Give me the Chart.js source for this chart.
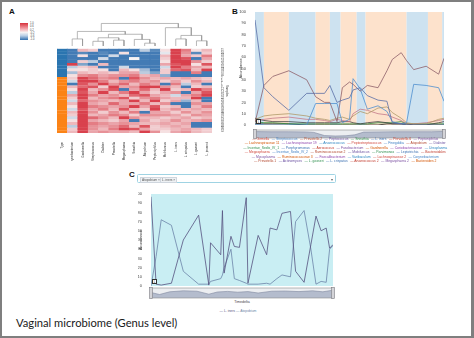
<!DOCTYPE html>
<html>
<head>
<meta charset="utf-8">
<script src="https://cdn.jsdelivr.net/npm/chart.js@4.4.1/dist/chart.umd.min.js"></script>
<style>
  html, body { margin: 0; padding: 0; background: #fff; }
  #page { position: relative; width: 474px; height: 338px; overflow: hidden; font-family: 'Liberation Sans', Arial, sans-serif; }
  #frame { position: absolute; left: 0; top: 0; width: 474px; height: 338px; box-sizing: border-box;
           border: 2px solid #7f7f7f; border-right-width: 3px; pointer-events: none; }
  canvas { position: absolute; }
  .panel { position: absolute; font-weight: bold; font-size: 8px; color: #111; }
  #hmLegend { position: absolute; left: 20px; top: 23px; width: 8px; height: 17px;
              background: linear-gradient(#d7303b, #f4a8ae 35%, #f7f4f4 55%, #b9cfe6 75%, #2f6eae); }
  #hmLegendTicks { position: absolute; left: 30px; top: 22px; font-size: 2.6px; line-height: 3.3px; color: #444; }
  #bLegend { position: absolute; left: 240px; top: 137px; width: 212px; text-align: center; font-size: 3.4px; line-height: 4.4px; }
  #bLegend span { margin-right: 1.5px; white-space: nowrap; }
  #cLegend { position: absolute; left: 140px; top: 309px; width: 196px; text-align: center; font-size: 3.4px; }
  #cSelect { position: absolute; left: 137px; top: 174px; width: 199px; height: 9px; box-sizing: border-box;
             border: 0.8px solid #9fd3e3; border-radius: 1.5px; background: #fff; }
  .chip { position: absolute; top: 2px; height: 4px; font-size: 3.2px; line-height: 4px; color: #555;
          background: #eef1f4; border: 0.5px solid #cfd6de; padding: 0 1px; }
  #cArrow { position: absolute; right: 2px; top: 1.5px; font-size: 4px; color: #666; }
  .mini { position: absolute; width: 5px; height: 5px; box-sizing: border-box; border: 0.7px solid #333; background: #fff;
          font-size: 3px; line-height: 4px; text-align: center; color: #333; }
  #tdLabel { position: absolute; left: 151px; top: 300px; width: 182px; text-align: center; font-size: 3.6px; color: #444; }
  #caption { position: absolute; left: 16px; top: 316px; font-family: Lato, 'Open Sans', sans-serif; font-size: 11.2px; color: #1a1a1a; white-space: nowrap; }
</style>
</head>
<body>
<div id="page">
  <div class="panel" style="left:9px;top:7px;">A</div>
  <div class="panel" style="left:232px;top:7px;">B</div>
  <div class="panel" style="left:129px;top:170px;">C</div>

  <div id="hmLegend"></div>
  <div id="hmLegendTicks"></div>
  <canvas id="cDendro" width="145" height="24" style="left:67px;top:22px;"></canvas>
  <canvas id="cHeat" width="172" height="115" style="left:57px;top:46px;"></canvas>

  <canvas id="cB" width="208" height="123" style="left:238px;top:8px;"></canvas>
  <canvas id="cBRange" width="193" height="10" style="left:253px;top:129px;"></canvas>
  <div class="mini" style="left:256px;top:119px;">L</div>
  <div id="bLegend"></div>

  <div id="cSelect">
    <div class="chip" style="left:2px;">Atopobium ×</div>
    <div class="chip" style="left:22px;">L. iners ×</div>
    <div id="cArrow">▾</div>
  </div>
  <canvas id="cC" width="197" height="102" style="left:138px;top:190px;"></canvas>
  <canvas id="cCRange" width="186" height="12" style="left:149px;top:287px;"></canvas>
  <div class="mini" style="left:152px;top:279px;">L</div>
  <div id="tdLabel">Timedelta</div>
  <div id="cLegend"></div>

  <div id="caption">Vaginal microbiome (Genus level)</div>
  <div id="frame"></div>
</div>

<script>
// ─── Panel A: clustered heatmap ───
const HM_COLS = ['Type', 'Corynebacterium', 'Gardnerella', 'Streptococcus', 'Dialister', 'Prevotella',
  'Megasphaera', 'Sneathia', 'Atopobium', 'Peptoniphilus', 'Mobiluncus', 'L. iners', 'L. crispatus', 'L. gasseri', 'L. jensenii'];
const HM_SAMPLES = ['11', '16', '18', '21', '24', '26', '31', '33', '37', '40', '2', '5', '7', '9', '12', '14', '19', '22',
  '25', '28', '30', '34', '36', '39', '42', '44', '46', '48', '50', '52'];
const HM_TYPE = [0, 0, 0, 0, 0, 0, 0, 0, 0, 0, 1, 1, 1, 1, 1, 1, 1, 1, 1, 1, 1, 1, 1, 1, 1, 1, 1, 1, 1, 1];
const TYPE_COLORS = ['#2b75b0', '#fb8316'];
const HM_VALUES = [
  [-0.9, 0.3, 0.2, -0.9, -0.9, -0.9, -0.9, -0.3, -0.8, 0.1, 0.9, 0.6, 0.1, 0.3],
  [-0.9, -0.8, -0.9, -0.8, -0.9, 0.1, -0.9, -0.9, -0.9, -0.1, 0.9, 0.5, -0.8, 0.2],
  [-0.9, 0.1, -0.9, -0.9, -0.2, -0.9, -0.9, -0.9, -0.9, 0.3, 0.9, 0.4, 0.2, 0.6],
  [-0.9, -0.9, -0.9, -0.2, -0.9, -0.9, 0.0, -0.9, -0.9, 0.2, 0.9, 0.8, -0.9, 0.4],
  [-0.9, 0.2, -0.3, -0.9, -0.9, -0.9, -0.9, -0.9, -0.9, 0.1, 0.9, 0.9, 0.5, 0.2],
  [0.9, -0.6, -0.9, 0.3, -0.9, -0.9, -0.9, -0.9, -0.9, 0.4, 0.8, 0.9, 0.1, 0.8],
  [-0.3, 0.2, 0.3, -0.9, -0.9, -0.2, -0.9, -0.9, -0.9, -0.2, 0.9, 0.6, 0.4, 0.3],
  [0.1, 0.1, 0.2, 0.1, -0.9, 0.3, 0.1, -0.4, -0.9, 0.2, 0.7, 0.8, 0.3, 0.9],
  [-0.4, 0.3, 0.2, 0.3, 0.2, 0.4, 0.4, -0.3, -0.6, 0.2, -0.9, -0.9, 0.6, -0.9],
  [0.1, 0.5, 0.6, 0.4, 0.5, 0.5, 0.6, 0.3, 0.4, -0.5, -0.9, -0.9, -0.9, -0.9],
  [0.2, 0.9, 0.7, 0.5, 0.6, -0.9, 0.8, 0.5, 0.3, 0.4, 0.3, 0.4, 0.3, 0.2],
  [-0.2, 0.9, 0.9, 0.6, 0.3, 0.5, 0.6, 0.4, 0.5, 0.2, 0.4, 0.2, 0.5, 0.3],
  [-0.9, 0.8, 0.5, 0.9, 0.5, 0.7, 0.3, 0.6, 0.4, -0.9, 0.6, -0.3, 0.3, -0.9],
  [0.3, 0.7, 0.8, 0.2, 0.9, 0.4, 0.5, 0.9, 0.9, 0.5, 0.3, -0.9, 0.2, 0.3],
  [0.1, 0.9, 0.3, 0.5, 0.8, -0.9, 0.4, 0.7, 0.3, 0.9, 0.2, 0.3, 0.9, 0.6],
  [-0.3, 0.8, 0.4, 0.9, 0.3, 0.6, 0.9, 0.4, 0.2, 0.4, 0.5, -0.9, 0.4, 0.8],
  [0.4, 0.9, 0.6, 0.4, 0.5, 0.3, 0.7, 0.8, 0.4, 0.3, -0.2, 0.4, 0.6, 0.9],
  [0.2, 0.9, 0.3, 0.5, 0.6, 0.8, 0.2, 0.5, 0.6, 0.4, 0.3, 0.3, 0.9, -0.9],
  [-0.2, 0.7, 0.5, 0.4, 0.3, 0.4, 0.9, 0.3, 0.9, 0.2, 0.4, -0.5, 0.3, -0.9],
  [0.3, 0.9, 0.4, 0.3, 0.7, 0.4, 0.4, 0.6, 0.3, 0.5, -0.9, -0.9, 0.5, 0.4],
  [0.1, 0.9, 0.6, 0.5, 0.4, 0.5, 0.9, 0.4, 0.8, 0.2, 0.3, -0.9, 0.3, 0.6],
  [-0.2, 0.8, 0.4, 0.6, 0.3, 0.8, 0.3, 0.2, 0.9, 0.3, 0.5, 0.3, 0.4, 0.3],
  [0.3, 0.9, 0.5, 0.2, 0.5, 0.3, 0.6, -0.9, 0.4, 0.4, 0.2, 0.5, 0.3, 0.5],
  [0.2, 0.9, 0.3, 0.4, 0.6, 0.5, 0.2, 0.5, 0.5, 0.5, 0.4, 0.2, 0.5, 0.4],
  [-0.2, 0.9, 0.7, 0.5, 0.3, 0.9, 0.5, 0.3, 0.3, 0.2, 0.3, 0.4, 0.2, 0.3],
  [0.1, 0.9, 0.4, 0.3, 0.2, 0.4, -0.9, 0.4, 0.2, 0.3, 0.5, 0.3, 0.4, 0.5],
  [0.3, 0.9, 0.6, 0.5, 0.4, 0.5, 0.4, 0.3, 0.3, 0.4, 0.3, 0.4, -0.9, -0.9],
  [-0.3, 0.9, 0.5, 0.4, 0.5, 0.7, 0.3, 0.8, 0.2, 0.3, 0.4, 0.3, -0.9, -0.9],
  [0.2, 0.9, 0.5, 0.3, 0.6, 0.9, 0.8, 0.4, 0.2, 0.2, 0.3, 0.4, 0.3, 0.2],
  [0.3, 0.9, 0.4, 0.5, 0.4, 0.4, 0.3, 0.9, 0.5, 0.1, 0.4, 0.5, 0.3, 0.2],
];
// dendrogram over the 14 genus columns: [left, right, height]
const HM_TREE = [
  [[0, 1, 0.3], [[[2, 3, 0.2], [4, 5, 0.25], 0.35], [6, [7, 8, 0.12], 0.28], 0.5], 0.62],
  [9, [[10, 11, 0.3], [12, 13, 0.22], 0.45], 0.78],
  0.96];
const HM_LEGEND_TICKS = ['1.0', '0.6', '0.2', '-0.2', '-0.6', '-1.0'];

// ─── Panel B: all genera over time ───
const B_T = [1, 6, 11, 20, 30, 35, 40, 43, 47, 50, 54, 56, 60, 64, 70, 75, 78, 83, 86, 90, 97, 104, 107];
const B_LINERS      = [93, 33, 25, 13, 28, 28, 28, 35, 20, 22, 24, 31, 33, 26, 22, 21, 2, 1, 0, 0, 0, 0, 0];
const B_GARDNERELLA = [2, 35, 43, 48, 40, 25, 20, 20, 3, 33, 38, 36, 30, 35, 33, 48, 58, 64, 57, 49, 52, 45, 59];
const B_ATOPOBIUM   = [0, 0, 0, 0, 0, 19, 19, 19, 19, 2, 5, 41, 32, 14, 17, 12, 3, 1, 2, 36, 35, 33, 21];
const B_PREVOTELLA  = [5, 8, 9, 10, 8, 6, 5, 4, 6, 7, 5, 8, 12, 10, 15, 16, 11, 6, 2, 1, 1, 5, 6];
const B_SNEATHIA    = [4, 5, 6, 7, 5, 5, 4, 3, 5, 4, 3, 10, 14, 13, 10, 9, 7, 4, 1, 1, 2, 4, 5];
const B_MEGASPHAERA = [6, 4, 3, 3, 2, 2, 2, 2, 2, 3, 3, 2, 1, 2, 3, 2, 1, 1, 0, 0, 0, 2, 3];
const B_DIALISTER   = [3, 2, 2, 1, 1, 1, 1, 1, 1, 1, 1, 1, 1, 1, 2, 2, 2, 3, 1, 1, 1, 1, 1];
const B_STREPTO     = [1, 1, 1, 1, 0, 0, 0, 0, 0, 0, 0, 0, 0, 0, 0, 1, 1, 1, 1, 0, 0, 0, 0];
const B_LINES = [
  ['L. iners', '#5b6fa6', B_LINERS],
  ['Gardnerella', '#8e5f6a', B_GARDNERELLA],
  ['Atopobium', '#4f8fcf', B_ATOPOBIUM],
  ['Prevotella 6', '#b09a6a', B_PREVOTELLA],
  ['Sneathia', '#c47a8a', B_SNEATHIA],
  ['Megasphaera', '#444444', B_MEGASPHAERA],
  ['Dialister', '#2e8b3a', B_DIALISTER],
  ['Streptococcus', '#222222', B_STREPTO],
];
// subject-state bands behind the lines (start, end)
const B_BAND_EDGES = [1, 6, 20, 35, 43, 49, 58, 63, 86, 98, 106, 107];
const B_BAND_COLORS = ['#cde2f0', '#fde2cc'];
const B_XTICKS = [10, 20, 30, 40, 50, 60, 70, 80, 90, 100];
const B_OVERVIEW_T = [1, 10, 20, 30, 34, 40, 46, 52, 57, 62, 70, 80, 90, 100, 107];
const B_OVERVIEW_V = [80, 78, 78, 76, 70, 30, 25, 28, 40, 74, 76, 78, 78, 78, 82];
const B_LEGEND_NAMES = ['Gemella', 'Streptococcus', 'Prevotella 2', 'Peptococcus', 'Sneathia', 'L. iners', 'Prevotella 6', 'Peptoniphilus',
  'Lachnospiraceae 11', 'Lachnospiraceae 19', 'Anaerococcus', 'Peptostreptococcus', 'Finegoldia', 'Atopobium', 'Dialister',
  'Incertae_Sedis_IV_1', 'Porphyromonas', 'Aerococcus', 'Fusobacterium', 'Gardnerella', 'Coriobacteriaceae', 'Ureaplasma', 'Megasphaera',
  'Incertae_Sedis_IV_2', 'Ruminococcaceae 2', 'Mobiluncus', 'Parvimonas', 'Leptotrichia', 'Bacteroidales', 'Mycoplasma',
  'Ruminococcaceae 3', 'Faecalibacterium', 'Varibaculum', 'Lachnospiraceae 2', 'Corynebacterium', 'Prevotella 1', 'Actinomyces', 'L. gasseri',
  'L. crispatus', 'Anaerococcus 2', 'Megasphaera 2', 'Bacteroides 2'];
const B_LEGEND_COLORS = ['#d0453a', '#3f7fc4', '#b3472e', '#6a4fa0', '#2f8f4e', '#3a6fb0', '#c0392b', '#7a4ea0', '#d35400', '#8e44ad', '#2e86c1'];

// ─── Panel C: selected genera ───
const C_T = [1, 4, 7, 13, 20, 29, 35, 36, 42, 43, 44, 48, 50, 53, 57, 58, 64, 69, 71, 75, 78, 83, 86, 91, 95, 98, 101, 104, 106, 108];
const C_LINERS    = [97, 2, 1, 3, 50, 77, 1, 47, 34, 82, 14, 54, 43, 42, 96, 3, 55, 34, 63, 61, 79, 81, 16, 4, 45, 76, 60, 63, 41, 45];
const C_ATOPOBIUM = [0, 32, 72, 66, 16, 2, 2, 5, 8, 12, 20, 40, 8, 6, 3, 2, 2, 3, 2, 8, 12, 10, 70, 82, 40, 2, 5, 4, 40, 44];
const C_COLORS = ['#55527f', '#6c84a8'];
const C_XTICKS = [20, 40, 60, 80, 100];
const C_OVERVIEW_T = [1, 6, 12, 20, 28, 35, 40, 46, 52, 58, 64, 72, 80, 88, 96, 102, 108];
const C_OVERVIEW_V = [55, 35, 62, 72, 68, 38, 60, 66, 58, 64, 50, 68, 70, 64, 72, 62, 78];

Chart.defaults.font.family = "'Liberation Sans', Arial, sans-serif";
Chart.defaults.color = '#444';

// ─── helpers ───
function heatColor(v) {
  const w = [248, 244, 244];
  const end = v < 0 ? [47, 110, 174] : [214, 45, 58];
  const k = Math.min(1, Math.abs(v));
  const c = w.map((a, i) => Math.round(a + (end[i] - a) * k));
  return `rgb(${c[0]},${c[1]},${c[2]})`;
}

function layoutTree(node, segs) {
  if (typeof node === 'number') return { x: node, h: 0 };
  const a = layoutTree(node[0], segs);
  const b = layoutTree(node[1], segs);
  const h = node[2];
  segs.push([{ x: a.x, y: a.h }, { x: a.x, y: h }, { x: b.x, y: h }, { x: b.x, y: b.h }]);
  return { x: (a.x + b.x) / 2, h };
}

const bandsPlugin = {
  id: 'bands',
  beforeDatasetsDraw(chart) {
    const { ctx, chartArea: { top, bottom }, scales: { x } } = chart;
    ctx.save();
    for (let i = 0; i < B_BAND_EDGES.length - 1; i++) {
      const x0 = x.getPixelForValue(B_BAND_EDGES[i]);
      const x1 = x.getPixelForValue(B_BAND_EDGES[i + 1]);
      ctx.fillStyle = B_BAND_COLORS[i % 2];
      ctx.fillRect(x0, top, x1 - x0, bottom - top);
    }
    ctx.restore();
  }
};

const plotBgPlugin = {
  id: 'plotBg',
  beforeDatasetsDraw(chart, args, opts) {
    const { ctx, chartArea: a } = chart;
    ctx.save();
    ctx.fillStyle = opts.color;
    ctx.fillRect(a.left, a.top, a.right - a.left, a.bottom - a.top);
    ctx.restore();
  }
};

const handlesPlugin = {
  id: 'handles',
  afterDatasetsDraw(chart) {
    const { ctx, chartArea: a } = chart;
    ctx.save();
    ctx.strokeStyle = '#8a8a8a';
    ctx.lineWidth = 0.6;
    ctx.strokeRect(a.left, a.top, a.right - a.left, a.bottom - a.top);
    [a.left, a.right].forEach(px => {
      ctx.fillStyle = '#d4d4d8';
      ctx.fillRect(px - 1.5, a.top - 0.5, 3, a.bottom - a.top + 1);
      ctx.strokeStyle = '#7d7d84';
      ctx.strokeRect(px - 1.5, a.top - 0.5, 3, a.bottom - a.top + 1);
    });
    ctx.restore();
  }
};

function fixedTicks(list) {
  return scale => { scale.ticks = list.map(v => ({ value: v })); };
}

// ─── A: dendrogram ───
const treeSegs = [];
layoutTree(HM_TREE, treeSegs);
new Chart(document.getElementById('cDendro'), {
  type: 'scatter',
  data: {
    datasets: treeSegs.map(seg => ({
      data: seg, showLine: true, borderColor: '#9a9a9a', borderWidth: 0.7, pointRadius: 0,
    })),
  },
  options: {
    responsive: false, animation: false, events: [],
    layout: { padding: { top: 0.5 } },
    plugins: { legend: { display: false }, tooltip: { enabled: false } },
    scales: {
      x: { type: 'linear', min: -0.5, max: 13.5, display: false },
      y: { type: 'linear', min: 0, max: 1, display: false },
    },
  },
});

// ─── A: heatmap ───
new Chart(document.getElementById('cHeat'), {
  type: 'bar',
  data: {
    labels: HM_COLS,
    datasets: HM_VALUES.map((row, r) => {
      const colors = [TYPE_COLORS[HM_TYPE[r]], ...row.map(heatColor)];
      return {
        label: HM_SAMPLES[r],
        data: HM_COLS.map(() => 1),
        backgroundColor: colors,
        borderColor: colors,
        borderWidth: 0.3,
        barPercentage: 1,
        categoryPercentage: 1,
        yAxisID: 'y',
      };
    }),
  },
  options: {
    responsive: false, animation: false, events: [],
    layout: { padding: 0 },
    plugins: { legend: { display: false }, tooltip: { enabled: false } },
    scales: {
      x: {
        stacked: true, grid: { display: false }, border: { display: false },
        ticks: { autoSkip: false, maxRotation: 90, minRotation: 90, font: { size: 3 }, padding: 1, color: '#333' },
        afterFit: s => { s.height = 28; },
      },
      y: { stacked: true, min: 0, max: HM_SAMPLES.length, reverse: true, display: false },
      ys: {
        type: 'category', labels: HM_SAMPLES, position: 'right', offset: true,
        grid: { display: false }, border: { display: false },
        ticks: { autoSkip: false, font: { size: 2.6 }, padding: 1, color: '#333' },
        title: { display: true, text: 'Samples', font: { size: 3 }, padding: 0, color: '#333' },
        afterFit: s => { s.width = 17; },
      },
    },
  },
});

document.getElementById('hmLegendTicks').innerHTML = HM_LEGEND_TICKS.map(t => `<div>${t}</div>`).join('');

// ─── B: line chart ───
new Chart(document.getElementById('cB'), {
  type: 'line',
  data: {
    datasets: B_LINES.map(([name, color, vals]) => ({
      label: name,
      data: B_T.map((t, i) => ({ x: t, y: vals[i] })),
      borderColor: color, borderWidth: 0.8, pointRadius: 0, tension: 0,
    })),
  },
  options: {
    responsive: false, animation: false, events: [],
    layout: { padding: { top: 4, right: 2 } },
    plugins: { legend: { display: false }, tooltip: { enabled: false } },
    scales: {
      x: {
        type: 'linear', min: 1, max: 107, grid: { display: false }, border: { display: false },
        ticks: { font: { size: 4 }, padding: 1 },
        afterBuildTicks: fixedTicks(B_XTICKS),
        afterFit: s => { s.height = 6; },
      },
      y: {
        min: 0, max: 100, grid: { display: false }, border: { display: false },
        ticks: { stepSize: 10, font: { size: 4 }, padding: 1 },
        title: { display: true, text: 'Abundance', font: { size: 4 }, padding: 0 },
        afterFit: s => { s.width = 17; },
      },
    },
  },
  plugins: [bandsPlugin],
});

// ─── B: range selector ───
new Chart(document.getElementById('cBRange'), {
  type: 'line',
  data: {
    datasets: [{
      data: B_OVERVIEW_T.map((t, i) => ({ x: t, y: B_OVERVIEW_V[i] })),
      borderColor: '#7f88a0', borderWidth: 0.6, pointRadius: 0, fill: 'origin', backgroundColor: '#b4bccd',
    }],
  },
  options: {
    responsive: false, animation: false, events: [],
    layout: { padding: { left: 2, right: 2, top: 1, bottom: 1 } },
    plugins: { legend: { display: false }, tooltip: { enabled: false }, plotBg: { color: '#eceef1' } },
    scales: {
      x: { type: 'linear', min: 1, max: 107, display: false },
      y: { min: 0, max: 100, display: false },
    },
  },
  plugins: [plotBgPlugin, handlesPlugin],
});

document.getElementById('bLegend').innerHTML = B_LEGEND_NAMES.map((n, i) =>
  `<span style="color:${B_LEGEND_COLORS[i % B_LEGEND_COLORS.length]}">— ${n}</span>`).join(' ');

// ─── C: selected genera ───
new Chart(document.getElementById('cC'), {
  type: 'line',
  data: {
    datasets: [
      { label: 'L. iners', data: C_T.map((t, i) => ({ x: t, y: C_LINERS[i] })), borderColor: C_COLORS[0] },
      { label: 'Atopobium', data: C_T.map((t, i) => ({ x: t, y: C_ATOPOBIUM[i] })), borderColor: C_COLORS[1] },
    ].map(d => Object.assign(d, { borderWidth: 0.8, pointRadius: 0, tension: 0 })),
  },
  options: {
    responsive: false, animation: false, events: [],
    layout: { padding: { top: 4, right: 2 } },
    plugins: { legend: { display: false }, tooltip: { enabled: false }, plotBg: { color: '#c9eef3' } },
    scales: {
      x: {
        type: 'linear', min: 1, max: 108, grid: { display: false }, border: { display: false },
        ticks: { font: { size: 4 }, padding: 1 },
        afterBuildTicks: fixedTicks(C_XTICKS),
        afterFit: s => { s.height = 6; },
      },
      y: {
        min: 0, max: 100, grid: { display: false }, border: { display: false },
        ticks: { stepSize: 10, font: { size: 4 }, padding: 1 },
        title: { display: true, text: 'Abundance', font: { size: 4 }, padding: 0 },
        afterFit: s => { s.width = 13; },
      },
    },
  },
  plugins: [plotBgPlugin],
});

new Chart(document.getElementById('cCRange'), {
  type: 'line',
  data: {
    datasets: [{
      data: C_OVERVIEW_T.map((t, i) => ({ x: t, y: C_OVERVIEW_V[i] })),
      borderColor: '#7f88a0', borderWidth: 0.6, pointRadius: 0, fill: 'origin', backgroundColor: '#b4bccd',
    }],
  },
  options: {
    responsive: false, animation: false, events: [],
    layout: { padding: { left: 2, right: 2, top: 1, bottom: 1 } },
    plugins: { legend: { display: false }, tooltip: { enabled: false }, plotBg: { color: '#eceef1' } },
    scales: {
      x: { type: 'linear', min: 1, max: 108, display: false },
      y: { min: 0, max: 100, display: false },
    },
  },
  plugins: [plotBgPlugin, handlesPlugin],
});

document.getElementById('cLegend').innerHTML =
  `<span style="color:${C_COLORS[0]}">— L. iners</span> <span style="color:${C_COLORS[1]}">— Atopobium</span>`;
</script>
</body>
</html>
